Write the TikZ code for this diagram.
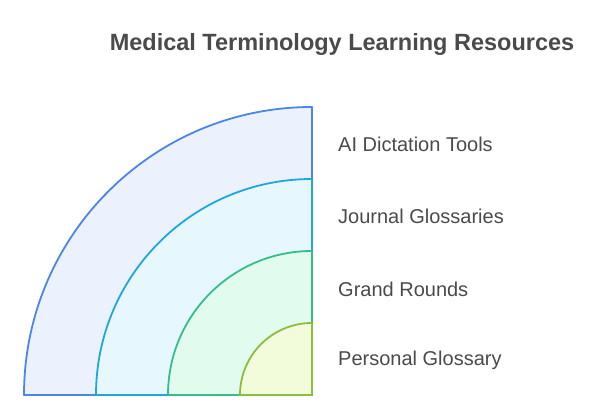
\documentclass[tikz,border=0pt]{standalone}
\usepackage{fontspec}
\setmainfont{Liberation Sans}
\definecolor{txtgray}{HTML}{4A4A4A}
\definecolor{ringA}{HTML}{4A86E8}
\definecolor{fillA}{HTML}{ECF2FD}
\definecolor{ringB}{HTML}{1FA6DE}
\definecolor{fillB}{HTML}{E7F7FE}
\definecolor{ringC}{HTML}{35BE8A}
\definecolor{fillC}{HTML}{E1FBEF}
\definecolor{ringD}{HTML}{8CBD3C}
\definecolor{fillD}{HTML}{F3FCDA}
\tikzset{
	ring/.style={line width=1.8pt, line join=round},
	lbl/.style={anchor=west, inner sep=0pt, text=txtgray, font=\fontsize{20}{24}\selectfont}
}
\begin{document}
\begin{tikzpicture}[x=1pt,y=1pt]
		\useasboundingbox (0,0) rectangle (606,412);
		\coordinate (c) at (312,17);
		% rings, outer first
		\filldraw [ring, draw=ringA, fill=fillA] (c) -- ++(-288,0) arc [start angle=180, end angle=90, radius=288] -- cycle;
		\filldraw [ring, draw=ringB, fill=fillB] (c) -- ++(-216,0) arc [start angle=180, end angle=90, radius=216] -- cycle;
		\filldraw [ring, draw=ringC, fill=fillC] (c) -- ++(-144,0) arc [start angle=180, end angle=90, radius=144] -- cycle;
		\filldraw [ring, draw=ringD, fill=fillD] (c) -- ++(-72,0) arc [start angle=180, end angle=90, radius=72] -- cycle;
		\node (t1) at (342,368) [text=txtgray, font=\bfseries\fontsize{23.5}{28}\selectfont] {Medical Terminology Learning Resources};
		\node (l1) at (338,268) [lbl] {AI Dictation Tools};
		\node (l2) at (338,196) [lbl] {Journal Glossaries};
		\node (l3) at (338,123) [lbl] {Grand Rounds};
		\node (l4) at (338,52) [lbl] {Personal Glossary};
		\end{tikzpicture}
\end{document}
